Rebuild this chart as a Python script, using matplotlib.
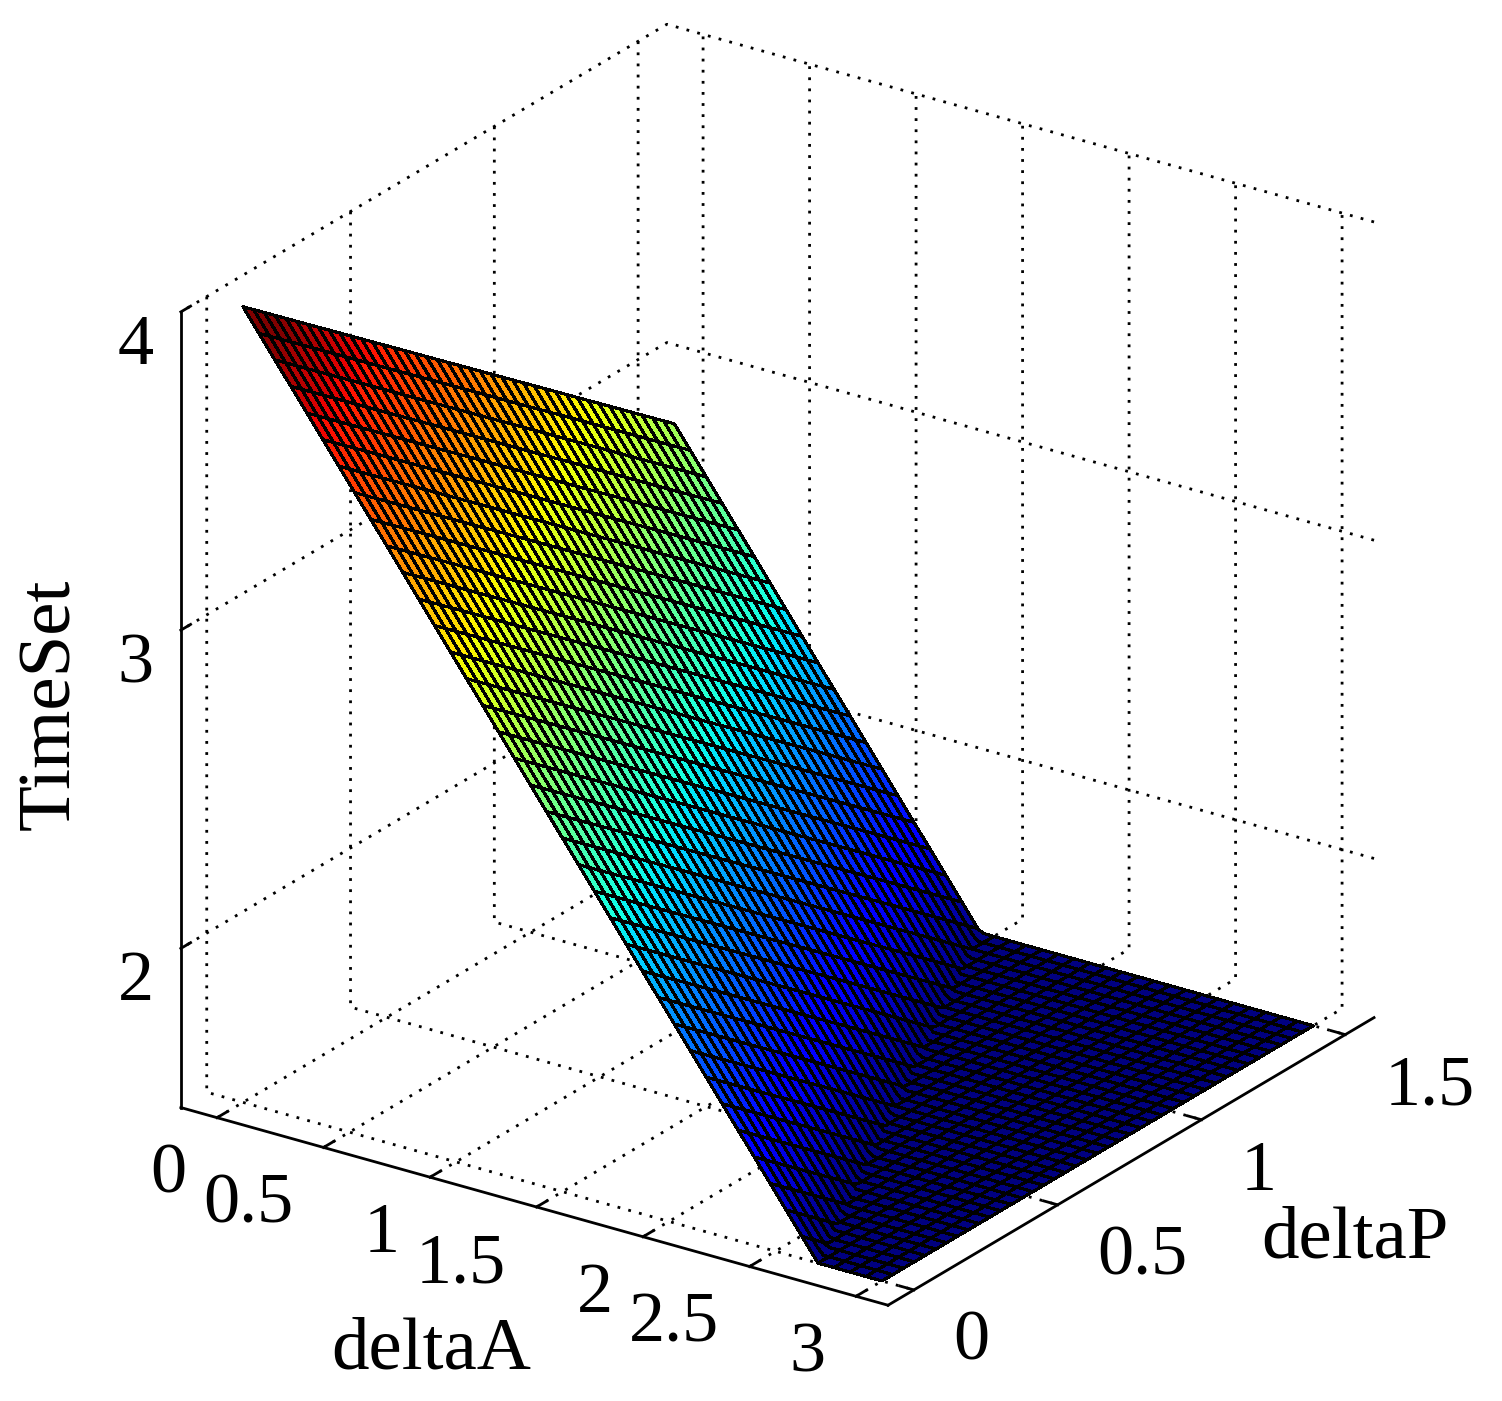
import matplotlib
matplotlib.use("Agg")
import matplotlib.pyplot as plt
import numpy as np

# values
delta_a = np.linspace(0, 3, 121)
delta_p = np.linspace(0, 1.5, 121)
timeset_origin = 4.0        # deltaA=0, deltaP=0
timeset_far_p = 2.83        # deltaA=0, deltaP=1.5
kink_a = 2.7                # deltaP=0 edge reaches the floor here
timeset_floor = 1.5
color_top = 3.9             # colour scale saturates a little below the peak

xlim = (-0.17, 3.15)
ylim = (-0.09, 1.6)
zlim = (1.5, 4)
xticks = [0, 0.5, 1, 1.5, 2, 2.5, 3]
xticklabels = ["0", "0.5", "1", "1.5", "2", "2.5", "3"]
yticks = [0, 0.5, 1, 1.5]
yticklabels = ["0", "0.5", "1", "1.5"]
zticks = [2, 3, 4]
zticklabels = ["2", "3", "4"]

slope_a = (timeset_origin - timeset_floor) / kink_a
slope_p = (timeset_origin - timeset_far_p) / delta_p[-1]
A, P = np.meshgrid(delta_a, delta_p)
T = np.maximum(timeset_floor, timeset_origin - slope_a * A - slope_p * P)

plt.rcParams["font.family"] = ["Liberation Serif", "DejaVu Serif"]
plt.rcParams["font.size"] = 52
plt.rcParams["grid.color"] = "black"
plt.rcParams["grid.linewidth"] = 2.0
plt.rcParams["grid.linestyle"] = (0, (1, 3))

fig = plt.figure(figsize=(15.02, 14.01), dpi=100)
ax = fig.add_axes([0.005, 0.012, 1, 1], projection="3d", proj_type="ortho")
ax.plot_surface(A, P, T, cmap="jet", vmin=timeset_floor, vmax=color_top,
                edgecolor="black", linewidth=1.5, antialiased=False)

ax.set_xlim(*xlim)
ax.set_ylim(*ylim)
ax.set_zlim(*zlim)
ax.set_xticks(xticks)
ax.set_yticks(yticks)
ax.set_zticks(zticks, zticklabels)
ax.xaxis.set_tick_params(label1On=False, label2On=False)
ax.yaxis.set_tick_params(label1On=False, label2On=False)
ax.view_init(elev=24, azim=-55.5)
ax.set_box_aspect((1, 1, 1.015), zoom=1.035)

for axis in (ax.xaxis, ax.yaxis, ax.zaxis):
    axis.pane.fill = False
    axis.pane.set_edgecolor((1, 1, 1, 0))
    axis.line.set_color("black")
    axis.line.set_linewidth(2)
    axis._axinfo["tick"]["inward_factor"] = 0.0
    axis._axinfo["tick"]["outward_factor"] = 0.25
    axis._axinfo["tick"]["linewidth"] = {True: 2, False: 1}
ax.zaxis.set_ticks_position("lower")
ax.tick_params(axis="z", pad=4)
for lab in ax.get_zticklabels():
    lab.set_ha("right")
ax.grid(True)

# MATLAB-style tick labels: right/top under deltaA, left of deltaP ticks
for xt, lab in zip(xticks, xticklabels):
    ax.text(xt, ylim[0] - 0.105, zlim[0] - 0.023, lab, ha="right", va="top")
for yt, lab in zip(yticks, yticklabels):
    ax.text(xlim[1] + 0.185, yt, zlim[0] - 0.13, lab, ha="left", va="center")

fig.text(0.287, 0.036, "deltaA", ha="center", va="center", fontsize=54)
fig.text(0.902, 0.115, "deltaP", ha="center", va="center", fontsize=54)
fig.text(0.034, 0.497, "TimeSet", ha="center", va="center", rotation=90,
         fontsize=54)

fig.savefig("out.png", dpi=100, facecolor="white")
